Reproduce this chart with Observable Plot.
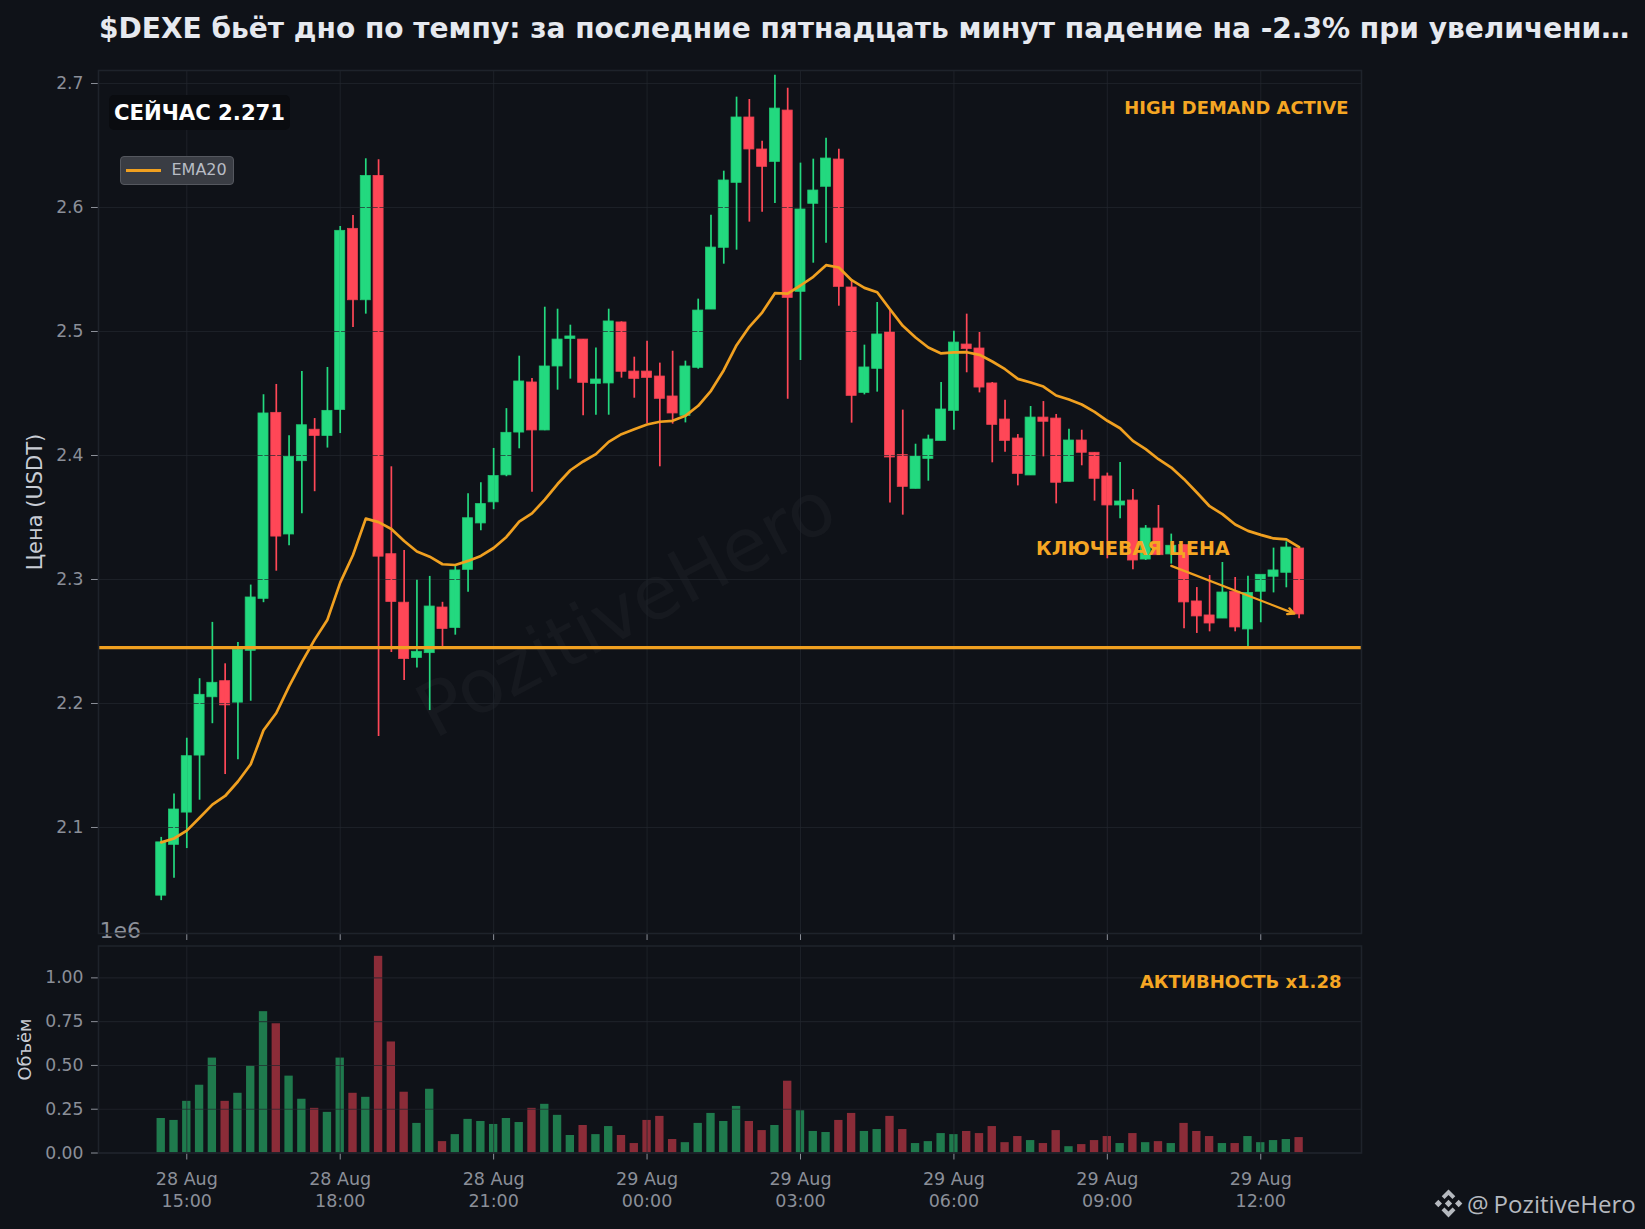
<!DOCTYPE html>
<html lang="ru">
<head>
<meta charset="utf-8">
<title>$DEXE</title>
<script src="https://cdn.jsdelivr.net/npm/d3@7"></script>
<script src="https://cdn.jsdelivr.net/npm/@observablehq/plot@0.6"></script>
<style>
html,body{margin:0;padding:0;background:#0f1218;}
#page{position:relative;width:1645px;height:1229px;overflow:hidden;background:#0f1218;font-family:"DejaVu Sans",sans-serif;}
#page svg.plot{position:absolute;left:0;display:block;}
#title{position:absolute;left:99px;top:12px;font-size:28.05px;font-weight:700;color:#e6e9ef;white-space:nowrap;line-height:34px;}
#now{position:absolute;left:109px;top:95px;width:181px;height:35px;border-radius:5px;background:#0a0c10;color:#fff;font-weight:700;font-size:21.2px;line-height:36px;text-align:center;}
#legend{position:absolute;left:119.5px;top:155.5px;width:114px;height:29px;box-sizing:border-box;border:1px solid #55585f;border-radius:4px;background:#3a3d44;}
#legend i{position:absolute;left:5px;top:12px;width:35px;height:3px;background:#f0a020;}
#legend span{position:absolute;left:51px;top:0;line-height:26px;font-size:16px;color:#b8bcc4;}
#brand{position:absolute;left:1433px;top:1185px;height:36px;display:flex;align-items:center;color:#b5b9bf;font-family:"Open Sans",sans-serif;font-size:24.1px;white-space:nowrap;}
#brand svg{width:31px;height:31px;margin-right:3px;}
</style>
</head>
<body>
<div id="page">
  <div id="title">$DEXE бьёт дно по темпу: за последние пятнадцать минут падение на -2.3% при увеличени…</div>
</div>
<script>
const opens = [2.045,2.086,2.112,2.158,2.205,2.218,2.2007,2.2425,2.2844,2.4344,2.3363,2.3954,2.4208,2.4158,2.4367,2.5828,2.5252,2.6255,2.3204,2.2813,2.2367,2.2406,2.2774,2.2609,2.3078,2.3452,2.3622,2.384,2.4185,2.4589,2.4202,2.4718,2.494,2.4935,2.4578,2.4581,2.5073,2.4677,2.4677,2.4637,2.4476,2.432,2.4707,2.5177,2.5675,2.6199,2.6726,2.6468,2.6368,2.6782,2.532,2.603,2.6167,2.6387,2.5355,2.4505,2.4699,2.4995,2.4003,2.3731,2.3973,2.4118,2.436,2.4895,2.4863,2.4581,2.429,2.4137,2.3839,2.4306,2.4298,2.3788,2.4121,2.4022,2.3831,2.3597,2.3637,2.3161,2.3411,2.3202,2.3277,2.2823,2.271,2.2685,2.2901,2.2597,2.2901,2.3022,2.3054,2.325];
const closes = [2.088,2.1145,2.1575,2.207,2.2167,2.1985,2.2434,2.2855,2.4339,2.3346,2.399,2.4244,2.4158,2.436,2.5812,2.5252,2.6255,2.3184,2.2819,2.2358,2.2417,2.2782,2.2601,2.3073,2.3494,2.3608,2.3834,2.4183,2.4597,2.4202,2.4718,2.4935,2.496,2.4586,2.4613,2.5081,2.4675,2.4618,2.4626,2.4457,2.4339,2.4718,2.5169,2.5677,2.6218,2.6726,2.6468,2.6328,2.6798,2.5271,2.5984,2.6137,2.6395,2.536,2.4481,2.471,2.4976,2.3984,2.3747,2.3992,2.4129,2.4371,2.4911,2.4858,2.4548,2.4247,2.4118,2.3852,2.4306,2.4272,2.378,2.4121,2.4022,2.3812,2.3597,2.3629,2.3153,2.3411,2.3196,2.3272,2.2815,2.2702,2.2645,2.2895,2.2613,2.2892,2.3038,2.3073,2.3258,2.2718];
const highs = [2.092,2.127,2.172,2.22,2.2654,2.232,2.2492,2.2955,2.449,2.4573,2.416,2.4677,2.4298,2.471,2.5847,2.5935,2.6393,2.6385,2.3909,2.3234,2.2994,2.3025,2.2816,2.311,2.3692,2.3781,2.4057,2.4378,2.4801,2.4621,2.5196,2.518,2.5051,2.4935,2.4866,2.518,2.5078,2.4793,2.4922,2.4745,2.4841,2.4761,2.5261,2.5938,2.6293,2.689,2.6871,2.6535,2.7067,2.6962,2.6358,2.639,2.6559,2.647,2.5414,2.489,2.5234,2.5172,2.4366,2.4091,2.4164,2.4589,2.5003,2.514,2.4992,2.4589,2.4446,2.4169,2.4395,2.4435,2.4331,2.4212,2.4204,2.4022,2.3858,2.3944,2.3726,2.3435,2.3597,2.3366,2.3277,2.2935,2.3032,2.3137,2.3016,2.3027,2.3038,2.3253,2.3304,2.325];
const lows = [2.041,2.059,2.083,2.122,2.1837,2.1427,2.1547,2.2018,2.2813,2.3067,2.3273,2.353,2.3708,2.406,2.4177,2.5032,2.514,2.1734,2.2411,2.2185,2.2286,2.1943,2.245,2.2551,2.2897,2.3393,2.3563,2.3829,2.4054,2.3703,2.42,2.4527,2.4616,2.432,2.4325,2.4325,2.4624,2.4462,2.4258,2.3909,2.4253,2.4263,2.4696,2.5177,2.5543,2.5656,2.5882,2.5962,2.6032,2.4454,2.4766,2.5551,2.5712,2.5204,2.4261,2.4489,2.4511,2.3616,2.3519,2.3731,2.3793,2.4118,2.4204,2.4667,2.4505,2.3941,2.4027,2.3755,2.3839,2.3989,2.361,2.3788,2.3917,2.3632,2.3167,2.3489,2.3078,2.3153,2.3196,2.3124,2.2602,2.2565,2.2578,2.2685,2.2578,2.2457,2.2651,2.2892,2.2933,2.2683];
const volumes = [0.197,0.186,0.295,0.387,0.542,0.295,0.341,0.496,0.807,0.738,0.439,0.307,0.255,0.232,0.542,0.341,0.318,1.123,0.634,0.347,0.169,0.364,0.065,0.105,0.192,0.18,0.163,0.197,0.174,0.255,0.278,0.215,0.1,0.157,0.105,0.151,0.1,0.054,0.186,0.209,0.077,0.059,0.169,0.226,0.18,0.266,0.18,0.128,0.157,0.41,0.241,0.123,0.117,0.186,0.226,0.123,0.134,0.209,0.134,0.054,0.065,0.111,0.105,0.123,0.111,0.151,0.059,0.094,0.071,0.054,0.128,0.036,0.048,0.071,0.094,0.054,0.111,0.059,0.065,0.054,0.169,0.123,0.094,0.054,0.054,0.094,0.059,0.071,0.077,0.088];
const ema20 = [2.088,2.0911,2.0975,2.1078,2.1184,2.1254,2.1371,2.151,2.1784,2.1923,2.2138,2.2333,2.2515,2.2676,2.2975,2.3198,2.3491,2.3463,2.3407,2.331,2.3226,2.3184,2.3123,2.3117,2.315,2.319,2.3254,2.3343,2.3466,2.3533,2.3644,2.377,2.3881,2.3952,2.4011,2.411,2.4172,2.4212,2.425,2.4272,2.428,2.432,2.4401,2.4522,2.4688,2.489,2.5038,2.5153,2.5309,2.5306,2.5371,2.5441,2.5535,2.5516,2.5414,2.5352,2.5317,2.518,2.5046,2.4952,2.4871,2.4823,2.4831,2.4833,2.4812,2.4758,2.4696,2.4618,2.4589,2.4556,2.4484,2.4452,2.4411,2.4352,2.428,2.422,2.4118,2.4051,2.397,2.3903,2.3809,2.3702,2.3591,2.3527,2.3444,2.3392,2.336,2.3331,2.3323,2.3261];
const priceTicks = [2.1,2.2,2.3,2.4,2.5,2.6,2.7];
const volumeTicks = [0,0.25,0.5,0.75,1];
const timeTickLabels = [["28 Aug","15:00"],["28 Aug","18:00"],["28 Aug","21:00"],["29 Aug","00:00"],["29 Aug","03:00"],["29 Aug","06:00"],["29 Aug","09:00"],["29 Aug","12:00"]];
const keyPrice = 2.245;
const lastPrice = "2.271";

const START = Date.UTC(2025,7,28,14,30), QUARTER = 15*60000, HOUR = 3600000;
const times = opens.map((_,i)=>new Date(START+i*QUARTER));
const timeTicks = timeTickLabels.map((_,i)=>new Date(START+HOUR/2+i*3*HOUR));
const candles = times.map((t,i)=>({t,o:opens[i],c:closes[i],h:highs[i],l:lows[i],v:volumes[i],e:ema20[i],up:closes[i]>=opens[i]}));
const xDomain = [new Date(START+HOUR/2-1.7265*HOUR), new Date(START+HOUR/2+22.97*HOUR)];
const minutes = (t,m)=>new Date(+t+m*60000);

const GREEN="#23d97f", RED="#ff4757", ORANGE="#f0a020", TICK="#8b8f98", GRID="#22262d", FRAME="#1e232b";
const fontStyle={fontFamily:"DejaVu Sans, sans-serif",background:"transparent",overflow:"visible"};

const priceChart = Plot.plot({
  width:1645,height:940,marginTop:70,marginBottom:7,marginLeft:98,marginRight:284,
  style:fontStyle,
  x:{type:"utc",domain:xDomain,axis:null},
  y:{domain:[2.0145,2.7105],axis:null},
  marks:[
    Plot.text(["PozitiveHero"],{x:()=>times[36],y:()=>2.275,dx:5,text:d=>d,rotate:-28,fontSize:74,fill:"#ffffff",fillOpacity:0.03}),
    Plot.rect(candles,{x1:d=>minutes(d.t,-5.9),x2:d=>minutes(d.t,5.9),y1:"o",y2:"c",fill:d=>d.up?GREEN:RED,stroke:d=>d.up?"#20c873":"#ea4152",strokeWidth:0.8}),
    Plot.gridX(timeTicks,{stroke:GRID,strokeOpacity:0.7,strokeWidth:1.1}),
    Plot.gridY(priceTicks,{stroke:GRID,strokeOpacity:0.7,strokeWidth:1.1}),
    Plot.ruleX(candles,{x:"t",y1:"l",y2:"h",stroke:d=>d.up?GREEN:RED,strokeWidth:1.7}),
    Plot.ruleY([keyPrice],{stroke:ORANGE,strokeWidth:3.3}),
    Plot.line(candles,{x:"t",y:"e",stroke:ORANGE,strokeWidth:2.7,curve:"linear"}),
    Plot.arrow([0],{x1:()=>times[79],y1:()=>2.311,x2:()=>times[89],y2:()=>2.271,stroke:ORANGE,strokeWidth:2.2,bend:0,headLength:5,headAngle:50,insetEnd:5}),
    Plot.text(["КЛЮЧЕВАЯ ЦЕНА"],{x:()=>times[76],y:()=>2.3246,text:d=>d,fill:"#f5a623",fontSize:19,fontWeight:700}),
    Plot.text(["HIGH DEMAND ACTIVE"],{frameAnchor:"top-right",dx:-13,dy:38,text:d=>d,fill:"#f5a623",fontSize:17.9,fontWeight:700,lineAnchor:"middle"}),
    Plot.text(["1e6"],{frameAnchor:"bottom-left",dx:1,dy:4,text:d=>d,fill:TICK,fontSize:22,lineAnchor:"bottom"}),
    Plot.text(["Цена (USDT)"],{frameAnchor:"left",dx:-63.5,rotate:-90,textAnchor:"middle",text:d=>d,fill:"#c8ccd4",fontSize:21}),
    Plot.axisY(priceTicks,{anchor:"left",tickSize:7,tickPadding:8,fontSize:17.2,color:TICK,tickFormat:".1f",label:null}),
    Plot.axisX(timeTicks,{anchor:"bottom",tickSize:7,text:null,color:TICK,label:null}),
    Plot.frame({stroke:FRAME,strokeWidth:1.6})
  ]
});

const volumeChart = Plot.plot({
  width:1645,height:289,marginTop:5.5,marginBottom:76.5,marginLeft:98,marginRight:284,
  style:fontStyle,
  x:{type:"utc",domain:xDomain,axis:null},
  y:{domain:[0,1.182],axis:null},
  marks:[
    Plot.rect(candles,{x1:d=>minutes(d.t,-4.9),x2:d=>minutes(d.t,4.9),y1:0,y2:"v",fill:d=>d.up?"#1f7a4d":"#8b2c38"}),
    Plot.gridX(timeTicks,{stroke:GRID,strokeOpacity:0.7,strokeWidth:1.1}),
    Plot.gridY(volumeTicks,{stroke:GRID,strokeOpacity:0.7,strokeWidth:1.1}),
    Plot.text(["АКТИВНОСТЬ x1.28"],{frameAnchor:"top-right",dx:-20,dy:36.5,text:d=>d,fill:"#f5a623",fontSize:18,fontWeight:700,lineAnchor:"middle"}),
    Plot.text(["Объём"],{frameAnchor:"left",dx:-73.5,rotate:-90,textAnchor:"middle",text:d=>d,fill:"#c8ccd4",fontSize:17.8}),
    Plot.axisY(volumeTicks,{anchor:"left",tickSize:7,tickPadding:8,fontSize:17.2,color:TICK,tickFormat:".2f",label:null}),
    Plot.axisX(timeTicks,{anchor:"bottom",tickSize:7,tickPadding:9,fontSize:17.5,color:TICK,label:null,lineHeight:1.28,
      tickFormat:d=>timeTickLabels[timeTicks.findIndex(t=>+t===+d)].join("\n")}),
    Plot.frame({stroke:FRAME,strokeWidth:1.6})
  ]
});
priceChart.style.top="0px";
volumeChart.style.top="940px";
const page=document.getElementById("page");
page.prepend(volumeChart);
page.prepend(priceChart);

page.insertAdjacentHTML("beforeend",`
<div id="now">СЕЙЧАС ${lastPrice}</div>
<div id="legend"><i></i><span>EMA20</span></div>
<div id="brand"><svg viewBox="0 0 32 32" fill="#b5b9bf"><path d="M16 1.5l7 7-2.9 2.9L16 7.3l-4.1 4.1L9 8.5zM5.5 12.2L9.3 16l-3.8 3.8L1.7 16zm21 0l3.8 3.8-3.8 3.8-3.8-3.8zM16 12.2l3.8 3.8-3.8 3.8-3.8-3.8zM8.8 23l3-3 4.2 4.2 4.2-4.2 3 3-7.2 7.5z"/></svg><span style="margin-right:5px">@</span><span>PozitiveHero</span></div>`);
</script>
</body>
</html>
